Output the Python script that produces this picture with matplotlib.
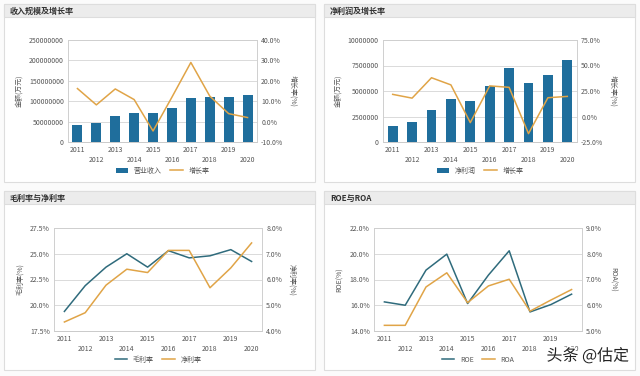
import matplotlib
matplotlib.use("Agg")
import matplotlib.pyplot as plt
from matplotlib.patches import Rectangle
from matplotlib.ticker import FuncFormatter
import matplotlib.patheffects as pe

plt.rcParams['font.family'] = ['Noto Sans CJK SC', 'DejaVu Sans']

# data
years = ['2011', '2012', '2013', '2014', '2015', '2016', '2017', '2018', '2019', '2020']

revenue = [42e6, 46e6, 64e6, 72e6, 71e6, 84e6, 109e6, 111e6, 111e6, 116e6]
revenue_growth = [16.2, 8.2, 16.0, 10.8, -4.6, 12.0, 29.0, 12.5, 3.9, 2.0]

profit = [1.6e6, 1.94e6, 3.1e6, 4.2e6, 4.05e6, 5.5e6, 7.24e6, 5.8e6, 6.55e6, 8.06e6]
profit_growth = [21.7, 18.0, 38.0, 31.0, -6.0, 30.0, 28.6, -16.8, 18.4, 19.7]

gross_margin = [19.4, 21.9, 23.7, 25.0, 23.7, 25.3, 24.6, 24.8, 25.4, 24.25]
net_margin = [4.35, 4.71, 5.78, 6.4, 6.27, 7.13, 7.13, 5.68, 6.45, 7.42]

roe = [16.26, 16.0, 18.73, 19.97, 16.13, 18.34, 20.23, 15.48, 16.05, 16.86]
roa = [5.22, 5.22, 6.71, 7.26, 6.1, 6.75, 7.01, 5.77, 6.2, 6.61]

BLUE = '#1f6e9c'
ORANGE = '#e0a447'
TEAL = '#2f6b7c'
GRID = '#d4d4d4'
TXT = '#555555'

W, H = 640, 376
fig = plt.figure(figsize=(6.4, 3.76), dpi=100)
fig.patch.set_facecolor('#fbfbfb')


def fbox(x0, y0, x1, y1):
    # pixel box (top-left origin) -> figure fraction rect
    return [x0 / W, 1 - y1 / H, (x1 - x0) / W, (y1 - y0) / H]


def panel(box, title):
    x0, y0, x1, y1 = box
    fig.patches.append(Rectangle((x0 / W, 1 - y1 / H), (x1 - x0) / W, (y1 - y0) / H,
                                 transform=fig.transFigure, facecolor='white',
                                 edgecolor='#dddddd', linewidth=0.8, zorder=-2))
    fig.patches.append(Rectangle((x0 / W, 1 - (y0 + 13) / H), (x1 - x0) / W, 13 / H,
                                 transform=fig.transFigure, facecolor='#ececec',
                                 edgecolor='#dddddd', linewidth=0.8, zorder=-1))
    fig.text((x0 + 6) / W, 1 - (y0 + 7) / H, title, fontsize=5.8, fontweight='bold',
             color='#333333', va='center', ha='left')


def style(ax, ax2):
    for a in (ax, ax2):
        for s in a.spines.values():
            s.set_color('#cfcfcf')
            s.set_linewidth(0.6)
        a.tick_params(length=0, labelsize=5, colors=TXT, pad=3)
    ax.spines['bottom'].set_color('#aaaaaa')
    ax.yaxis.grid(True, color=GRID, linewidth=0.6)
    ax.set_axisbelow(True)
    ax.set_xlim(-0.5, len(years) - 0.5)
    ax.set_xticks(range(len(years)))
    ax.set_xticklabels([y if i % 2 == 0 else '\n' + y for i, y in enumerate(years)],
                       linespacing=1.3)
    ax.patch.set_alpha(0)


pct = FuncFormatter(lambda v, p: '%.1f%%' % v)

# panel 1
panel((4, 4, 315, 182), '收入规模及增长率')
ax = fig.add_axes(fbox(68, 40, 257, 142))
ax2 = ax.twinx()
b = ax.bar(range(len(years)), revenue, width=0.53, color=BLUE, label='营业收入', zorder=2)
l, = ax2.plot(range(len(years)), revenue_growth, color=ORANGE, linewidth=1.1, label='增长率')
ax.set_ylim(0, 250e6)
ax.set_yticks([0, 50e6, 100e6, 150e6, 200e6, 250e6])
ax.yaxis.set_major_formatter(FuncFormatter(lambda v, p: '%d' % v))
ax2.set_ylim(-10, 40)
ax2.set_yticks([-10, 0, 10, 20, 30, 40])
ax2.yaxis.set_major_formatter(pct)
style(ax, ax2)
ax.set_ylabel('金额(万元)', fontsize=5, color=TXT, labelpad=4)
ax2.set_ylabel('增长率(%)', fontsize=5, color=TXT, rotation=270, labelpad=10)
ax.legend([b, l], ['营业收入', '增长率'], loc='center', bbox_to_anchor=(0.5, -0.28),
          ncol=2, frameon=False, fontsize=5, handlelength=1.8, columnspacing=1.2,
          labelcolor=TXT)

# panel 2
panel((324, 4, 635, 182), '净利润及增长率')
ax = fig.add_axes(fbox(383, 40, 577, 142))
ax2 = ax.twinx()
b = ax.bar(range(len(years)), profit, width=0.5, color=BLUE, label='净利润', zorder=2)
l, = ax2.plot(range(len(years)), profit_growth, color=ORANGE, linewidth=1.1, label='增长率')
ax.set_ylim(0, 10e6)
ax.set_yticks([0, 2.5e6, 5e6, 7.5e6, 10e6])
ax.yaxis.set_major_formatter(FuncFormatter(lambda v, p: '%d' % v))
ax2.set_ylim(-25, 75)
ax2.set_yticks([-25, 0, 25, 50, 75])
ax2.yaxis.set_major_formatter(pct)
style(ax, ax2)
ax.set_ylabel('金额(万元)', fontsize=5, color=TXT, labelpad=4)
ax2.set_ylabel('增长率(%)', fontsize=5, color=TXT, rotation=270, labelpad=10)
ax.legend([b, l], ['净利润', '增长率'], loc='center', bbox_to_anchor=(0.5, -0.28),
          ncol=2, frameon=False, fontsize=5, handlelength=1.8, columnspacing=1.2,
          labelcolor=TXT)

# panel 3
panel((4, 191, 315, 370), '毛利率与净利率')
ax = fig.add_axes(fbox(54, 228, 262, 331))
ax2 = ax.twinx()
l1, = ax.plot(range(len(years)), gross_margin, color=TEAL, linewidth=1.1)
l2, = ax2.plot(range(len(years)), net_margin, color=ORANGE, linewidth=1.1)
ax.set_ylim(17.5, 27.5)
ax.set_yticks([17.5, 20, 22.5, 25, 27.5])
ax.yaxis.set_major_formatter(pct)
ax2.set_ylim(4, 8)
ax2.set_yticks([4, 5, 6, 7, 8])
ax2.yaxis.set_major_formatter(pct)
style(ax, ax2)
ax.set_ylabel('毛利率(%)', fontsize=5, color=TXT, labelpad=4)
ax2.set_ylabel('净利率(%)', fontsize=5, color=TXT, rotation=270, labelpad=10)
ax.legend([l1, l2], ['毛利率', '净利率'], loc='center', bbox_to_anchor=(0.5, -0.28),
          ncol=2, frameon=False, fontsize=5, handlelength=1.8, columnspacing=1.2,
          labelcolor=TXT)

# panel 4
panel((324, 191, 635, 370), 'ROE与ROA')
ax = fig.add_axes(fbox(374, 228, 582, 331))
ax2 = ax.twinx()
l1, = ax.plot(range(len(years)), roe, color=TEAL, linewidth=1.1)
l2, = ax2.plot(range(len(years)), roa, color=ORANGE, linewidth=1.1)
ax.set_ylim(14, 22)
ax.set_yticks([14, 16, 18, 20, 22])
ax.yaxis.set_major_formatter(pct)
ax2.set_ylim(5, 9)
ax2.set_yticks([5, 6, 7, 8, 9])
ax2.yaxis.set_major_formatter(pct)
style(ax, ax2)
ax.set_ylabel('ROE(%)', fontsize=5, color=TXT, labelpad=4)
ax2.set_ylabel('ROA(%)', fontsize=5, color=TXT, rotation=270, labelpad=10)
ax.legend([l1, l2], ['ROE', 'ROA'], loc='center', bbox_to_anchor=(0.5, -0.28),
          ncol=2, frameon=False, fontsize=5, handlelength=1.8, columnspacing=1.2,
          labelcolor=TXT)

# watermark
fig.text(0.983, 1 - 356 / H, '头条 @估定', fontsize=11.5, color='#222222', ha='right',
         va='center', path_effects=[pe.withStroke(linewidth=2, foreground='white')])

fig.savefig('out.png', dpi=100, facecolor=fig.get_facecolor())
